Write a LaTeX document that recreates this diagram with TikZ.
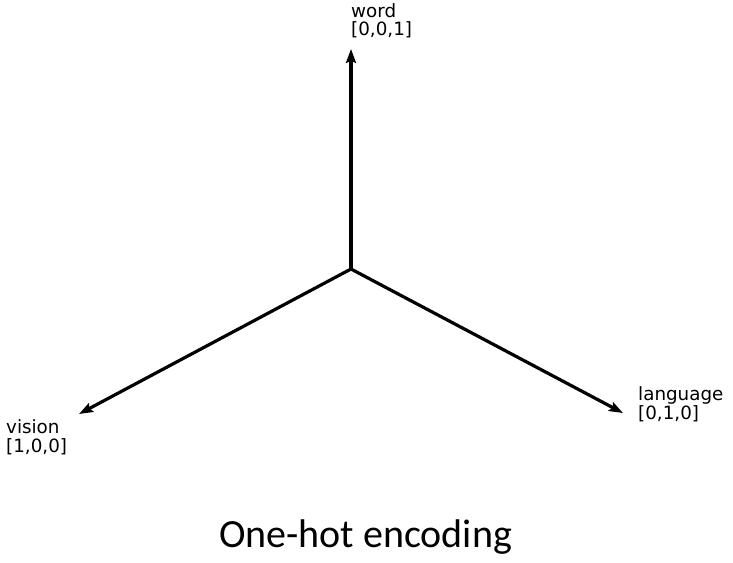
\documentclass[tikz,border=0pt]{standalone}
\usepackage{fontspec}
\newfontfamily\labfont{DejaVu Sans}
\newfontfamily\ttlfont{Carlito}
\usetikzlibrary{arrows.meta}
\begin{document}
\begin{tikzpicture}[x=1pt,y=-1pt,
  axis/.style={line width=3.2pt,-{Stealth[length=14pt,width=10pt,inset=2.5pt]}},
  lab/.style={font=\labfont\fontsize{18.3}{18.5}\selectfont,align=left,inner sep=0pt,anchor=base west},
  ttl/.style={font=\ttlfont\fontsize{40}{44}\selectfont,inner sep=0pt,anchor=base}]
\useasboundingbox[fill=white] (0,0) rectangle (733,562);
\coordinate (o) at (351,269);
\coordinate (w) at (351,49);
\coordinate (v) at (79,414);
\coordinate (l) at (623,413);
\draw[axis] (o) -- (w);
\draw[axis] (o) -- (v);
\draw[axis] (o) -- (l);
\node[lab] (wl) at (351,35.5) {word\\{}[0,0,1]};
\node[lab] (vl) at (6,452) {vision\\{}[1,0,0]};
\node[lab] (ll) at (638,419) {language\\{}[0,1,0]};
\node[ttl] (t) at (365.5,547.5) {One-hot encoding};
\end{tikzpicture}
\end{document}
